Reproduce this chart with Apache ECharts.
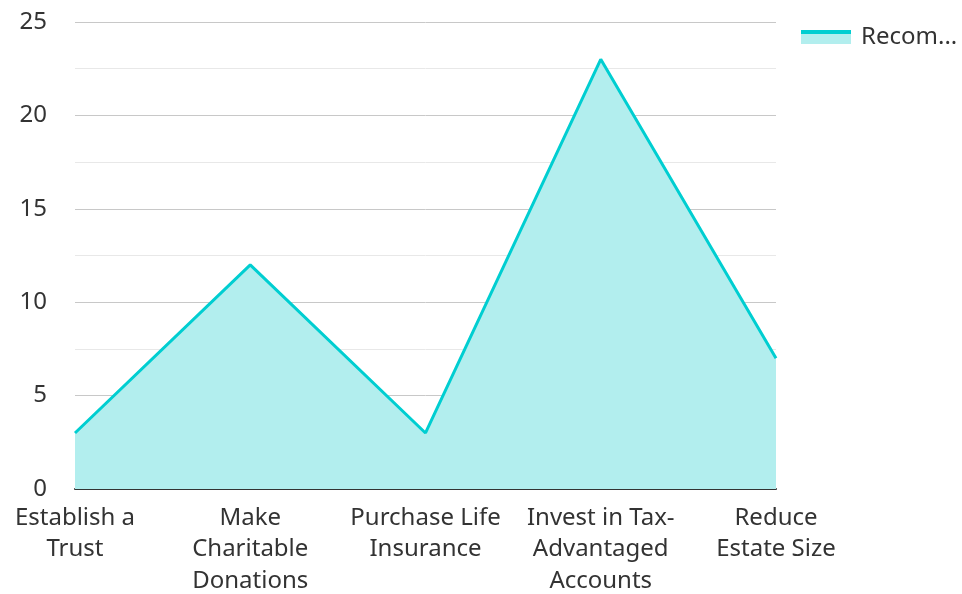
<!DOCTYPE html>
<html><head><meta charset="utf-8">
<script src="https://cdn.jsdelivr.net/npm/echarts@6/dist/echarts.min.js"></script>
<style>html,body{margin:0;padding:0;background:#fff}#c{width:962px;height:594px}</style>
</head><body><div id="c"></div>
<script>
const categories = ["Establish a Trust", "Make Charitable Donations", "Purchase Life Insurance", "Invest in Tax-Advantaged Accounts", "Reduce Estate Size"];
const values = [3, 12, 3, 23, 7];
const seriesName = "Recommendation Frequency";

const FONT = '24px "Noto Sans"';
const ctx = document.createElement('canvas').getContext('2d');
ctx.font = FONT;
function wrap(label, maxW) {
  const tokens = label.match(/[^\s-]+-?|\s+/g) || [];
  const lines = [];
  let cur = '';
  for (const t of tokens) {
    const trial = cur + t;
    if (cur.trim() && ctx.measureText(trial.trimEnd()).width > maxW && t.trim()) {
      lines.push(cur.trim());
      cur = t;
    } else {
      cur = trial;
    }
  }
  if (cur.trim()) lines.push(cur.trim());
  return lines.join('\n');
}

const chart = echarts.init(document.getElementById('c'));
chart.setOption({
  animation: false,
  textStyle: { fontFamily: 'Noto Sans' },
  grid: { left: 75, right: 186, top: 22, bottom: 105, outerBoundsMode: 'none', containLabel: false },
  legend: {
    left: 796, top: 20, itemWidth: 50, itemHeight: 14, itemGap: 10,
    icon: 'rect',
    itemStyle: {
      color: new echarts.graphic.LinearGradient(0, 0, 0, 1, [
        { offset: 0, color: '#00CED1' }, { offset: 0.28, color: '#00CED1' },
        { offset: 0.28, color: '#b2eeee' }, { offset: 1, color: '#b2eeee' }
      ]),
      borderWidth: 0
    },
    textStyle: { fontSize: 24, color: '#333', width: 104, overflow: 'truncate', fontFamily: 'Noto Sans', padding: [0, 0, 0, 5] },
    data: [seriesName]
  },
  xAxis: {
    type: 'category', data: categories, boundaryGap: false,
    axisLine: { lineStyle: { color: '#333', width: 2 } },
    axisTick: { show: false },
    axisLabel: { fontSize: 24, color: '#333', lineHeight: 31.5, interval: 0, margin: 13,
      formatter: v => wrap(v, 156) }
  },
  yAxis: {
    type: 'value', min: 0, max: 25, interval: 5,
    axisLine: { show: false }, axisTick: { show: false },
    axisLabel: { fontSize: 24, color: '#333', margin: 28 },
    splitLine: { lineStyle: { color: '#c8c8c8', width: 1 } },
    minorTick: { show: false, splitNumber: 2 },
    minorSplitLine: { show: true, lineStyle: { color: '#e8e8e8', width: 1 } }
  },
  series: [{
    name: seriesName, type: 'line', data: values, symbol: 'none',
    lineStyle: { color: '#00CED1', width: 3 },
    itemStyle: { color: '#00CED1' },
    areaStyle: { color: '#b2eeee', opacity: 1, origin: 'start' }
  }]
});
</script></body></html>
